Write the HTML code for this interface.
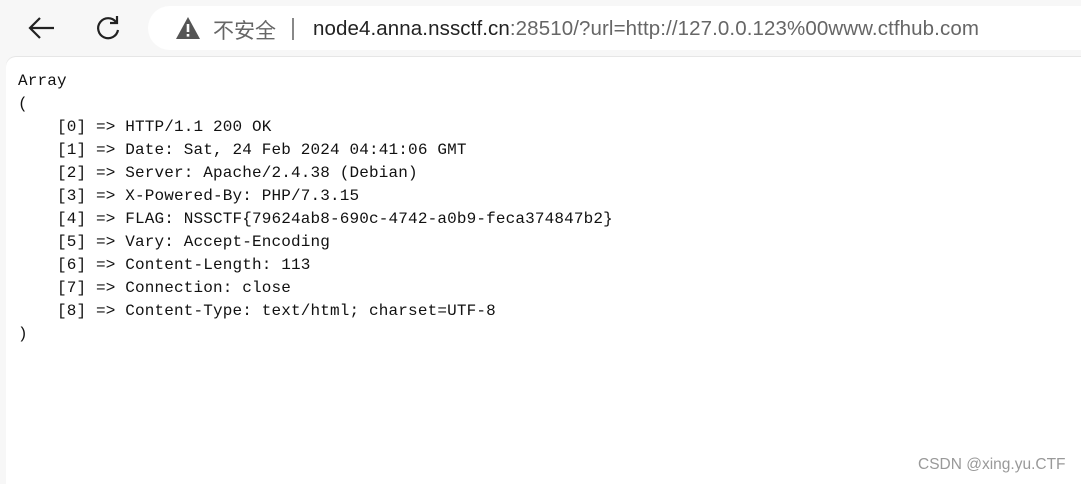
<!DOCTYPE html>
<html><head><meta charset="utf-8"><style>
html,body{margin:0;padding:0;width:1081px;height:484px;overflow:hidden;background:#f7f7f7;}
.bar{position:absolute;left:0;top:0;width:1081px;height:56px;background:#f7f7f7;}
.addr{position:absolute;left:148px;top:6px;width:960px;height:44px;background:#fff;border-radius:22px;}
.url{position:absolute;left:313px;top:17px;font:20.5px "Liberation Sans",sans-serif;color:#666;white-space:nowrap;letter-spacing:0.1px}
.url b{font-weight:normal;color:#222}
.insec{position:absolute;left:213px;top:15px;font:21px "Liberation Sans","Noto Sans CJK SC",sans-serif;color:#666}
.sep{position:absolute;left:292px;top:18px;width:2px;height:22px;background:#888}
.page{position:absolute;left:6px;top:57px;width:1075px;height:427px;background:#fff;border-top-left-radius:10px;box-shadow:0 -1px 0 #e6e6e6;}
pre{position:absolute;left:18px;top:70px;margin:0;font:16px/23px "Liberation Mono","Noto Sans CJK SC",monospace;letter-spacing:0.15px;color:#111;}
.wm{position:absolute;left:918px;top:456px;font:15.5px "Liberation Sans",sans-serif;color:#999;}
</style></head><body>
<div class="bar">
<svg style="position:absolute;left:26px;top:14px" width="30" height="28" viewBox="0 0 30 28"><path d="M28 14H4M14 4L4 14l10 10" fill="none" stroke="#222" stroke-width="2.2"/></svg>
<svg style="position:absolute;left:94px;top:13px" width="28" height="30" viewBox="0 0 28 30"><path d="M22 9A10 10 0 1 0 24 17" fill="none" stroke="#222" stroke-width="2.2"/><path d="M23 3v7h-7" fill="none" stroke="#222" stroke-width="2.2"/></svg>
<div class="addr"></div>
<svg style="position:absolute;left:175px;top:16px" width="26" height="24" viewBox="0 0 26 24"><path d="M13 1L25 23H1z" fill="#555"/><rect x="11.7" y="8" width="2.6" height="8" fill="#fff"/><rect x="11.7" y="18" width="2.6" height="2.6" fill="#fff"/></svg>
<div class="insec">不安全</div>
<div class="sep"></div>
<div class="url"><b>node4.anna.nssctf.cn</b>:28510/?url=http://127.0.0.123%00www.ctfhub.com</div>
</div>
<div class="page"></div>
<pre>Array
(
    [0] =&gt; HTTP/1.1 200 OK
    [1] =&gt; Date: Sat, 24 Feb 2024 04:41:06 GMT
    [2] =&gt; Server: Apache/2.4.38 (Debian)
    [3] =&gt; X-Powered-By: PHP/7.3.15
    [4] =&gt; FLAG: NSSCTF{79624ab8-690c-4742-a0b9-feca374847b2}
    [5] =&gt; Vary: Accept-Encoding
    [6] =&gt; Content-Length: 113
    [7] =&gt; Connection: close
    [8] =&gt; Content-Type: text/html; charset=UTF-8
)</pre>
<div class="wm">CSDN @xing.yu.CTF</div>
</body></html>
